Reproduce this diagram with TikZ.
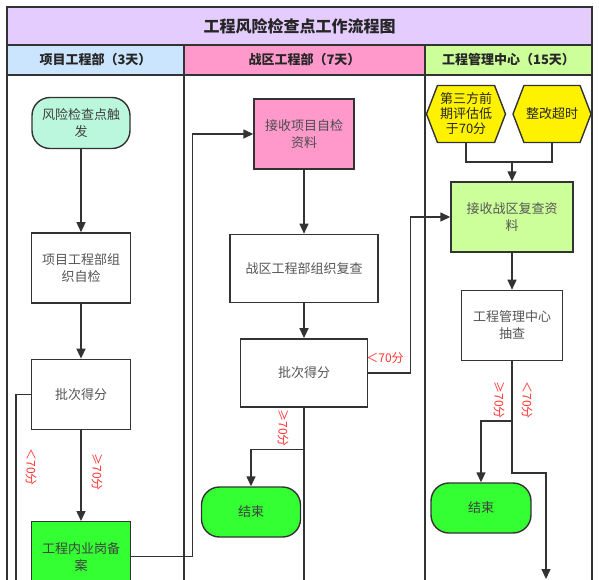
\documentclass[tikz,border=0pt]{standalone}
\usepackage{fontspec}
\setmainfont{Noto Sans CJK SC}
\usepackage{tikz}
\usetikzlibrary{positioning, calc, arrows.meta, shapes.symbols}

\definecolor{linegray}{HTML}{333333}
\definecolor{txtgray}{HTML}{555555}
\definecolor{titlebg}{HTML}{E5CCFF}
\definecolor{headA}{HTML}{CCE5FF}
\definecolor{headB}{HTML}{FF99CC}
\definecolor{headC}{HTML}{CCFF99}
\definecolor{mint}{HTML}{BAF7DC}
\definecolor{okgreen}{HTML}{33FF33}
\definecolor{condred}{HTML}{FF3333}

\begin{document}
\begin{tikzpicture}[x=1pt, y=-1pt,
    box/.style={rectangle, draw=linegray, line width=1.4pt, fill=white, text=txtgray,
        align=center, inner sep=2pt, font=\fontsize{13}{17}\selectfont},
    term/.style={box, rounded corners=18pt, text=black!75},
    hexa/.style={signal, signal to=east and west, signal pointer angle=138, draw=linegray,
        line width=1.4pt, fill=yellow, text=black!85, align=center, inner sep=1pt,
        font=\fontsize{13}{15}\selectfont},
    head/.style={rectangle, draw=linegray, line width=1.4pt, text=black!85,
        minimum height=30pt, font=\fontsize{13}{16}\selectfont\bfseries},
    flow/.style={draw=linegray, line width=1.4pt, -{Triangle[length=10pt, width=9pt]}},
    link/.style={draw=linegray, line width=1.4pt},
    cond/.style={text=condred, inner sep=1pt, font=\fontsize{12}{14}\selectfont}]
    \clip (0,0) rectangle (599,579);

    % title, lane heads and lanes
    \node[head, fill=titlebg, minimum width=585pt, minimum height=38pt,
        font=\fontsize{16}{20}\selectfont\bfseries] (title) at (299.5,26) {工程风险检查点工作流程图};
    \node[head, fill=headA, minimum width=177pt] (laneA) at (95.5,60) {项目工程部（3天）};
    \node[head, fill=headB, minimum width=241pt] (laneB) at (304.5,60) {战区工程部（7天）};
    \node[head, fill=headC, minimum width=167pt] (laneC) at (508.5,60) {工程管理中心（15天）};
    \foreach \xa/\xb in {7/184, 184/425, 425/592} {
        \draw[link] (\xa,75) rectangle (\xb,620);
    }

    \node (start) [term, fill=mint, minimum width=98pt, minimum height=51pt] at (81,123) {风险检查点触\\发};
    \node (selfchk) [box, minimum width=99pt, minimum height=70pt, below=83pt of start] {项目工程部组\\织自检};
    \node (score1) [box, minimum width=99pt, minimum height=70pt, below=55pt of selfchk] {批次得分};
    \node (archive) [box, fill=okgreen, text=black!75, minimum width=99pt, minimum height=70pt, below=91pt of score1] {工程内业岗备\\案};

    \node (recv1) [box, fill=headB, text=black!70, minimum width=100pt, minimum height=70pt] at (304,134) {接收项目自检\\资料};
    \node (review) [box, minimum width=148pt, minimum height=68pt, below=64pt of recv1] {战区工程部组织复查};
    \node (score2) [box, minimum width=127pt, minimum height=68pt, below=35pt of review] {批次得分};
    \node (end2) [term, fill=okgreen, minimum width=99pt, minimum height=50pt] at (251,512) {结束};

    \node (hexlow) [hexa, minimum width=79pt, minimum height=57pt] at (466,114) {第三方前\\期评估低\\于70分};
    \node (hexlate) [hexa, minimum width=78pt, minimum height=57pt] at (552,114) {整改超时};
    \node (recv2) [box, fill=headC, minimum width=122pt, minimum height=70pt] at (512,217) {接收战区复查资\\料};
    \node (spot) [box, minimum width=101pt, minimum height=70pt, below=37pt of recv2] {工程管理中心\\抽查};
    \node (end3) [term, fill=okgreen, minimum width=100pt, minimum height=50pt] at (481,508) {结束};

    \draw[flow] (start) -- (selfchk);
    \draw[flow] (selfchk) -- (score1);
    \draw[flow] (score1) -- (archive);
    \draw[link] (score1.west) -- ++(-15,0) -- ++(0,220);
    \draw[flow] (archive.east) -- ++(61,0) |- (recv1.west);

    \draw[flow] (recv1) -- (review);
    \draw[flow] (review) -- (score2);
    \draw[flow] (score2.east) -- ++(42,0) |- (recv2.west);
    \draw[flow] (score2.south) -- ++(0,42) -| (end2.north);
    \draw[link] (score2.south) -- ++(0,220);

    \coordinate (join) at (512,162);
    \draw[link] (hexlow.south) |- (join) -| (hexlate.south);
    \draw[flow] (join) -- (recv2);
    \draw[flow] (recv2) -- (spot);
    \coordinate (split) at (512,421);
    \coordinate (exit) at (546,579);
    \draw[flow] (spot.south) -- (split) -| (end3.north);
    \draw[flow] (split) -- ++(0,52) -| (exit);

    % score conditions
    \node[cond, rotate=-90] (geA) at (97,472) {≥70分};
    \node[cond, rotate=-90] (ltA) at (31,467) {＜70分};
    \node[cond] (ltB) at (385,358) {＜70分};
    \node[cond, rotate=-90] (geB) at (283,428) {≥70分};
    \node[cond, rotate=-90] (geC) at (499,400) {≥70分};
    \node[cond, rotate=-90] (ltC) at (527,400) {＜70分};
\end{tikzpicture}
\end{document}
